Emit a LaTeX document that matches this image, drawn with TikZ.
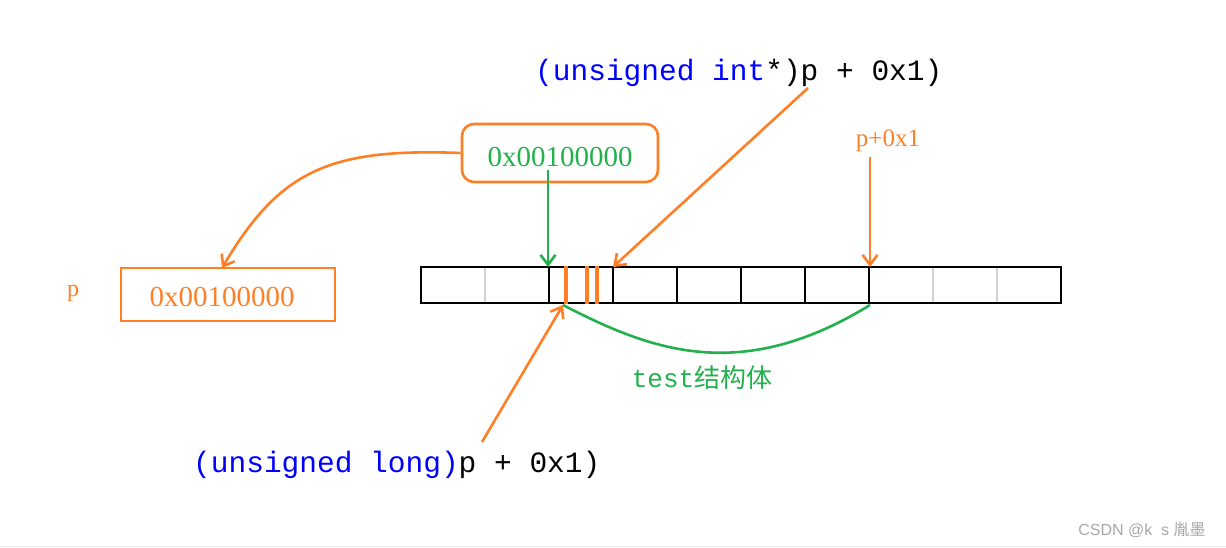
\documentclass[tikz,border=0pt]{standalone}
\usepackage{fontspec}
\setmainfont{Liberation Serif}
\newfontfamily\monof{Liberation Mono}
\newfontfamily\cjk{Noto Sans CJK SC}
\newfontfamily\sansf{Liberation Sans}
\usetikzlibrary{arrows.meta}
\definecolor{org}{HTML}{FF7F27}
\definecolor{grn}{HTML}{22B14C}
\definecolor{blu}{HTML}{0000FF}
\tikzset{
  oarr/.style={draw=org,line width=2.6pt,-{Straight Barb[length=10pt,width=15pt]}},
  garr/.style={draw=grn,line width=2.6pt,-{Straight Barb[length=10pt,width=15pt]}},
  code/.style={font=\monof\fontsize{29.5}{31}\selectfont,anchor=west,inner sep=0},
  hexn/.style={font=\fontsize{29}{30}\selectfont,inner sep=0},
}
\begin{document}
\begin{tikzpicture}[x=1pt,y=-1pt]
\useasboundingbox (0,0) rectangle (1226,548);
\draw[gray!20] (0,546) -- (1226,546);
% memory cells
\foreach \x in {485,933,997} \draw[gray!35,line width=1.3pt] (\x,267) -- (\x,303);
\foreach \x in {549,613,677,741,805,869} \draw[black,line width=1.5pt] (\x,267) -- (\x,303);
\draw[black,line width=1.5pt] (421,267) rectangle (1061,303);
\foreach \x in {566,587,597} \draw[org,line width=3.2pt] (\x,266) -- (\x,304);
\coordinate (c0) at (548,267);
\coordinate (c1) at (613,267);
\coordinate (c5) at (870,267);
\coordinate (b0) at (563,305);
\coordinate (b5) at (870,305);
% texts
\node[code] (t1) at (535,73) {\textcolor{blu}{(unsigned int}*)p + 0x1)};
\node[code] (t2) at (193,465) {\textcolor{blu}{(unsigned long)}p + 0x1)};
\node[draw=org,line width=2.6pt,rounded corners=12pt,minimum width=196pt,minimum height=58pt] (top) at (560,153) {};
\node[hexn,text=grn] (hx) at (560,157) {0x00100000};
\node[draw=org,line width=2.6pt,minimum width=214pt,minimum height=53pt] (pbox) at (228,294.5) {};
\node[hexn,text=org] (ph) at (222,297) {0x00100000};
\node[text=org,font=\fontsize{24}{26}\selectfont,inner sep=0] (p) at (73,293) {p};
\node[text=org,font=\fontsize{25}{26}\selectfont,inner sep=0] (pp) at (888,141) {p+0x1};
\node[text=grn,font=\fontsize{26}{28}\selectfont,inner sep=0] (ts) at (702,378) {\monof test\cjk 结构体};
\node[text=gray!70,font=\sansf\fontsize{16}{18}\selectfont,inner sep=0] (wm) at (1142,530) {CSDN @k\ \ s \cjk 胤墨};
% connectors
\draw[oarr] (top.west) .. controls (330,148) and (280,170) .. (222,268);
\draw[garr] (548,170) -- (c0);
\draw[oarr] (808,88) -- (c1);
\draw[oarr] (870,157) -- (c5);
\draw[oarr] (482,442) -- (b0);
\draw[draw=grn,line width=2.6pt] (b0) .. controls (650,350) and (740,385) .. (b5);
\end{tikzpicture}
\end{document}
